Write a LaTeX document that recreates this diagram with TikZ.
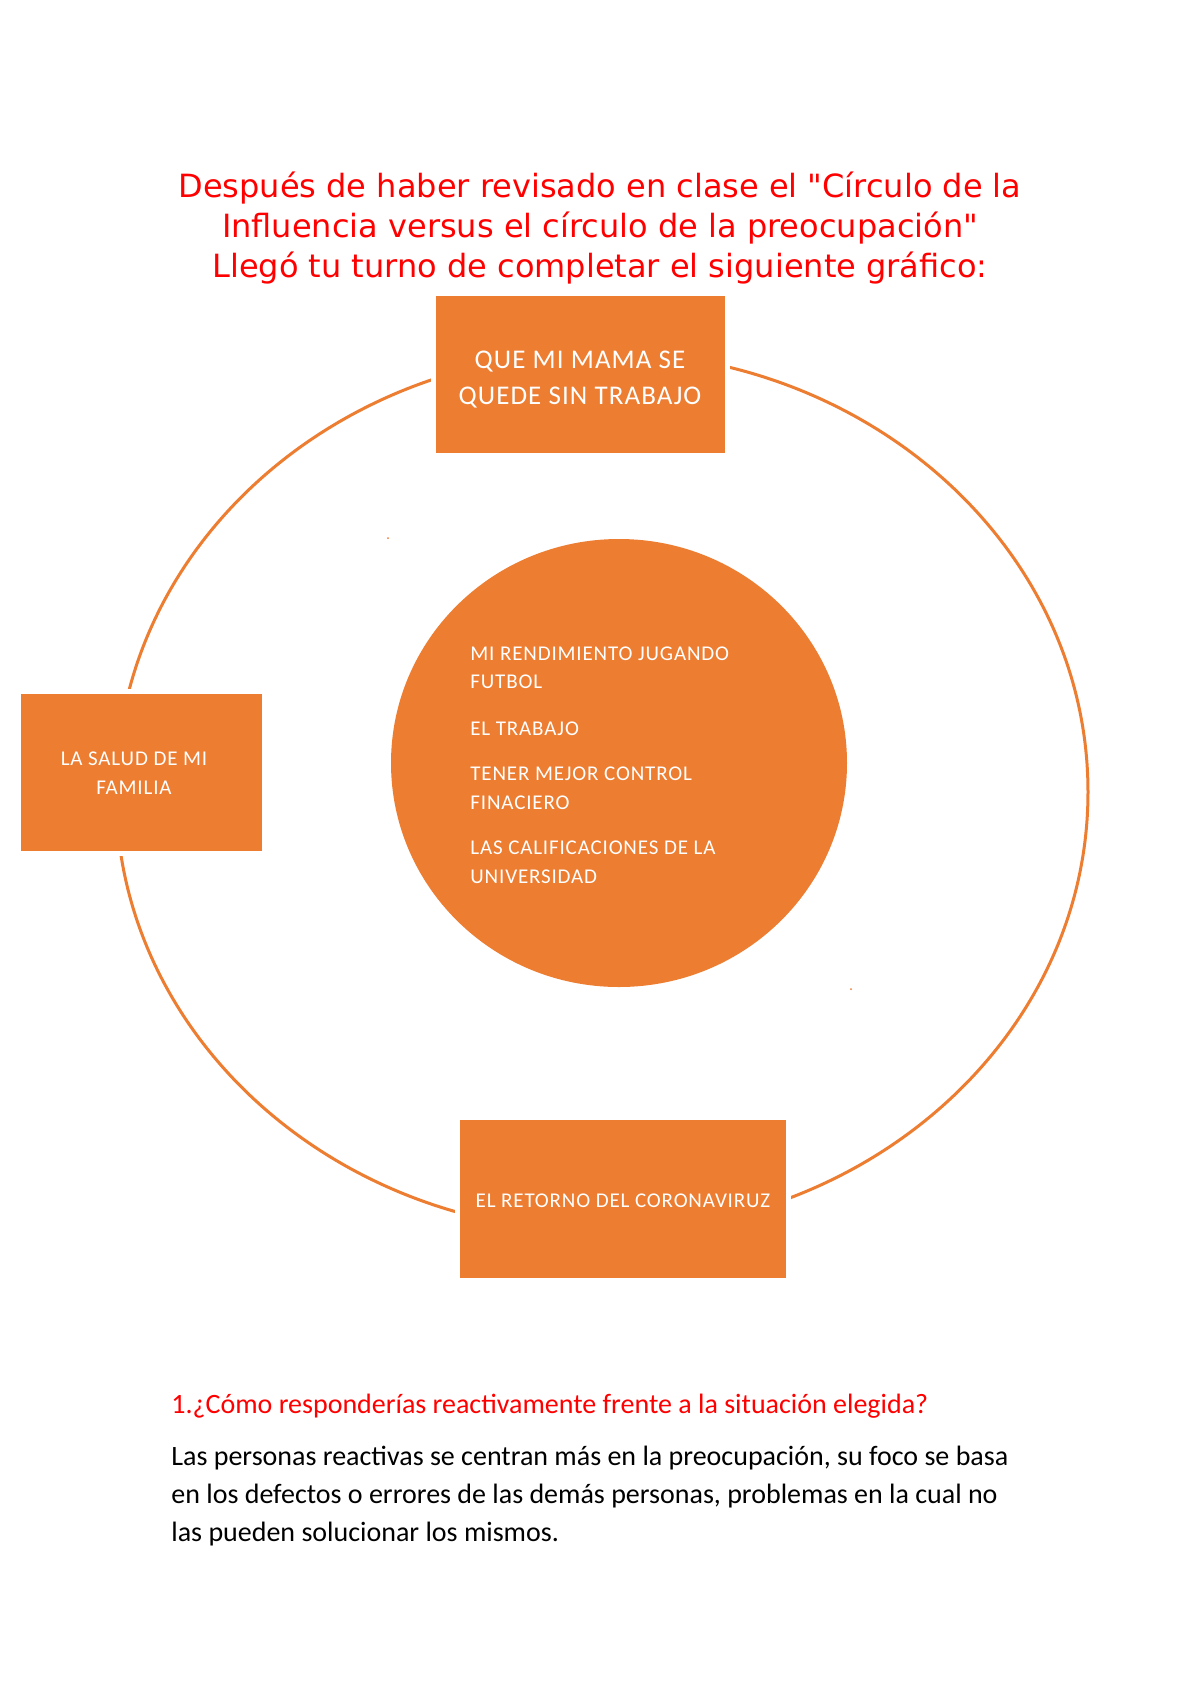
\documentclass[tikz,border=0pt]{standalone}
\usepackage{fontspec}
\usetikzlibrary{shapes.geometric}
\setmainfont{Carlito}
\newfontfamily\dejavu{DejaVu Sans}
\newfontfamily\spaced[LetterSpace=4]{Carlito}
\definecolor{boxorange}{HTML}{ED7D31}
\definecolor{titlered}{HTML}{FF0000}
\begin{document}
\begin{tikzpicture}[x=0.5pt,y=-0.5pt,
  box/.style={rectangle, fill=boxorange, preaction={draw=white,line width=5pt}, inner sep=0pt},
  boxtext/.style={text=white, align=center, inner sep=0pt},
  titletext/.style={font=\dejavu\fontsize{16}{20}\selectfont, text=titlered, anchor=base, inner sep=0pt},
  innertext/.style={font=\spaced\fontsize{10.5}{14}\selectfont, text=white, anchor=base west, inner sep=0pt},
  bodytext/.style={font=\fontsize{14}{19}\selectfont, anchor=base west, inner sep=0pt},
  ring/.style={draw=boxorange, line width=1.5pt}]
\useasboundingbox (0,0) rectangle (1200,1698);
\fill[white] (0,0) rectangle (1200,1698);

% title
\node[titletext] (t1) at (600,197) {Después de haber revisado en clase el "Círculo de la};
\node[titletext] (t2) at (600,237) {Influencia versus el círculo de la preocupación"};
\node[titletext] (t3) at (600,277) {Llegó tu turno de completar el siguiente gráfico:};

% outer ring
\draw[ring] (602,792) ellipse [x radius=486, y radius=440];

% inner circle
\node[ellipse, fill=boxorange, minimum width=228pt, minimum height=224pt, inner sep=0pt] (inner) at (619,763) {};
\node[innertext] (c1) at (470,660) {MI RENDIMIENTO JUGANDO};
\node[innertext] (c2) at (470,688) {FUTBOL};
\node[innertext] (c3) at (470,735) {EL TRABAJO};
\node[innertext] (c4) at (470,780) {TENER MEJOR CONTROL};
\node[innertext] (c5) at (470,809) {FINACIERO};
\node[innertext] (c6) at (470,854) {LAS CALIFICACIONES DE LA};
\node[innertext] (c7) at (470,883) {UNIVERSIDAD};

% boxes
\node[box, minimum width=144.5pt, minimum height=78.5pt] (top) at (580,374) {};
\node[boxtext, font=\spaced\fontsize{13.5}{18}\selectfont] (toptext) at (580,380) {QUE MI MAMA SE\\QUEDE SIN TRABAJO};
\node[box, minimum width=120.5pt, minimum height=78.5pt] (left) at (141,772) {};
\node[boxtext, font=\spaced\fontsize{10.5}{14.5}\selectfont] (lefttext) at (134,773) {LA SALUD DE MI\\FAMILIA};
\node[box, minimum width=163pt, minimum height=79pt] (bottom) at (623,1199) {};
\node[boxtext, font=\spaced\fontsize{10.5}{14}\selectfont] (bottomtext) at (623,1201) {EL RETORNO DEL CORONAVIRUZ};

% small specks
\fill[boxorange] (388,538) circle [radius=1];
\fill[boxorange] (851,989) circle [radius=1];

% question and answer
\node[bodytext, text=titlered] (q) at (171,1413) {1.¿Cómo responderías reactivamente frente a la situación elegida?};
\node[bodytext] (a1) at (171,1465) {Las personas reactivas se centran más en la preocupación, su foco se basa};
\node[bodytext] (a2) at (171,1503) {en los defectos o errores de las demás personas, problemas en la cual no};
\node[bodytext] (a3) at (171,1541) {las pueden solucionar los mismos.};
\end{tikzpicture}
\end{document}
